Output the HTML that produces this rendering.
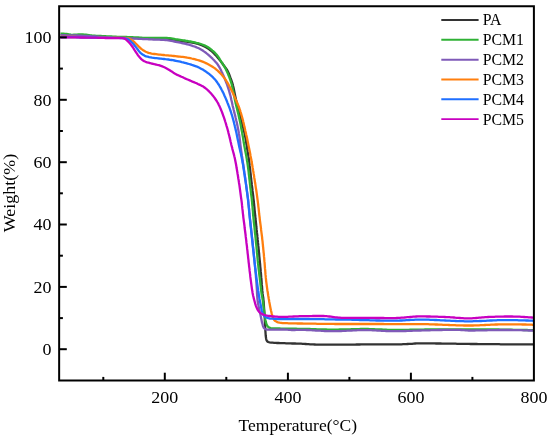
<!DOCTYPE html>
<html><head><meta charset="utf-8"><title>TG curves</title>
<style>
html,body{margin:0;padding:0;background:#fff;}
body{width:550px;height:439px;overflow:hidden;}
svg{display:block;}
text{font-family:"Liberation Serif",serif;fill:#000;}
.tk{font-size:17.2px;}
.ax{font-size:17.5px;}
.lg{font-size:15.8px;}
.ay{font-size:16.8px;}
</style></head><body>
<svg width="550" height="439" viewBox="0 0 550 439">
<rect x="0" y="0" width="550" height="439" fill="#fff"/>

<clipPath id="cp"><rect x="59.15" y="6.2" width="474.75" height="374.2"/></clipPath>
<g clip-path="url(#cp)" fill="none" stroke-width="2.3" stroke-linejoin="round" stroke-linecap="butt">
<path d="M60.5,36.8 L62.1,36.8 L63.5,36.8 L65.0,36.8 L66.5,36.8 L68.0,36.8 L69.5,36.8 L71.0,36.9 L72.5,36.9 L74.0,36.9 L75.5,36.9 L77.0,36.9 L78.5,36.9 L80.0,36.9 L81.5,37.0 L83.0,37.0 L84.5,37.0 L86.0,37.0 L87.5,37.0 L89.0,37.0 L90.5,37.1 L92.0,37.1 L93.5,37.1 L95.0,37.1 L96.5,37.1 L98.0,37.2 L99.5,37.2 L101.0,37.2 L102.5,37.2 L104.0,37.3 L105.5,37.3 L107.0,37.3 L108.5,37.4 L110.0,37.4 L111.5,37.4 L113.0,37.5 L114.5,37.5 L116.0,37.5 L117.5,37.6 L119.0,37.6 L120.5,37.7 L122.0,37.7 L123.5,37.7 L125.0,37.8 L126.5,37.8 L128.0,37.9 L129.5,37.9 L131.0,38.0 L132.5,38.0 L134.0,38.1 L135.5,38.1 L137.0,38.2 L138.5,38.2 L140.0,38.3 L141.5,38.3 L143.0,38.4 L144.5,38.4 L146.0,38.5 L147.5,38.5 L149.0,38.6 L150.5,38.6 L152.0,38.7 L153.5,38.7 L155.0,38.7 L156.5,38.7 L158.0,38.8 L159.5,38.8 L161.0,38.9 L162.5,38.9 L164.0,39.0 L165.5,39.0 L167.0,39.1 L168.5,39.3 L169.9,39.5 L171.4,39.7 L172.9,39.9 L174.4,40.1 L175.9,40.3 L177.4,40.5 L178.9,40.7 L180.4,40.9 L181.8,41.1 L183.3,41.3 L184.8,41.5 L186.3,41.7 L187.8,41.9 L189.3,42.2 L190.8,42.4 L192.3,42.6 L193.7,42.9 L195.2,43.2 L196.7,43.5 L198.1,43.9 L199.5,44.4 L200.9,44.9 L202.3,45.5 L203.7,46.1 L205.0,46.8 L206.4,47.6 L207.6,48.3 L208.9,49.1 L210.1,50.0 L211.2,50.9 L212.4,51.9 L213.5,53.0 L214.5,54.1 L215.6,55.1 L216.6,56.3 L217.6,57.4 L218.5,58.5 L219.5,59.7 L220.4,60.9 L221.3,62.1 L222.2,63.3 L223.1,64.5 L224.0,65.7 L224.9,66.9 L225.8,68.1 L226.7,69.4 L227.4,70.6 L228.1,72.0 L228.7,73.3 L229.3,74.7 L229.8,76.1 L230.3,77.5 L230.9,78.9 L231.4,80.4 L231.9,81.8 L232.3,83.2 L232.8,84.6 L233.1,86.1 L233.5,87.5 L233.8,89.0 L234.1,90.5 L234.4,91.9 L234.7,93.4 L235.0,94.9 L235.3,96.4 L235.6,97.8 L235.9,99.3 L236.3,100.8 L236.6,102.2 L237.0,103.7 L237.4,105.1 L237.7,106.6 L238.1,108.0 L238.5,109.5 L238.9,110.9 L239.3,112.4 L239.7,113.9 L240.1,115.3 L240.5,116.8 L240.9,118.2 L241.3,119.7 L241.6,121.1 L242.0,122.6 L242.3,124.1 L242.7,125.5 L243.0,127.0 L243.4,128.4 L243.7,129.9 L244.1,131.4 L244.4,132.8 L244.7,134.3 L245.0,135.7 L245.3,137.2 L245.6,138.7 L245.9,140.2 L246.1,141.6 L246.3,143.1 L246.5,144.6 L246.8,146.1 L247.0,147.6 L247.2,149.0 L247.5,150.5 L247.7,152.0 L248.0,153.5 L248.2,155.0 L248.4,156.4 L248.7,157.9 L248.9,159.4 L249.1,160.9 L249.3,162.4 L249.5,163.9 L249.6,165.4 L249.8,166.8 L250.0,168.3 L250.2,169.8 L250.3,171.3 L250.5,172.8 L250.7,174.3 L250.8,175.8 L251.0,177.3 L251.2,178.8 L251.3,180.3 L251.5,181.8 L251.7,183.2 L251.8,184.7 L252.0,186.2 L252.2,187.7 L252.4,189.2 L252.5,190.7 L252.7,192.2 L252.9,193.7 L253.1,195.2 L253.3,196.6 L253.4,198.1 L253.6,199.6 L253.8,201.1 L253.9,202.6 L254.1,204.1 L254.2,205.6 L254.4,207.1 L254.5,208.6 L254.6,210.1 L254.8,211.5 L254.9,213.0 L255.1,214.5 L255.2,216.0 L255.4,217.5 L255.5,219.0 L255.7,220.5 L255.9,222.0 L256.0,223.5 L256.2,225.0 L256.3,226.5 L256.5,228.0 L256.6,229.4 L256.8,230.9 L256.9,232.4 L257.1,233.9 L257.3,235.4 L257.4,236.9 L257.6,238.4 L257.7,239.9 L257.9,241.4 L258.0,242.9 L258.2,244.4 L258.3,245.9 L258.5,247.4 L258.6,248.8 L258.8,250.3 L258.9,251.8 L259.1,253.3 L259.2,254.8 L259.3,256.3 L259.5,257.8 L259.6,259.3 L259.8,260.8 L259.9,262.3 L260.1,263.8 L260.2,265.3 L260.3,266.8 L260.5,268.3 L260.6,269.7 L260.7,271.2 L260.9,272.7 L261.0,274.2 L261.1,275.7 L261.2,277.2 L261.4,278.7 L261.5,280.2 L261.6,281.7 L261.7,283.2 L261.8,284.7 L262.0,286.2 L262.1,287.7 L262.2,289.2 L262.3,290.7 L262.5,292.2 L262.6,293.7 L262.8,295.1 L263.0,296.6 L263.3,298.1 L263.4,299.6 L263.6,301.1 L263.7,302.6 L263.8,304.1 L263.9,305.6 L264.0,307.1 L264.1,308.6 L264.2,310.1 L264.3,311.6 L264.4,313.1 L264.5,314.6 L264.6,316.1 L264.7,317.6 L264.8,319.1 L264.8,320.6 L264.9,322.1 L265.0,323.6 L265.1,325.1 L265.2,326.5 L265.2,328.0 L265.3,329.5 L265.4,331.0 L265.5,332.5 L265.6,334.0 L265.7,335.5 L265.9,337.0 L266.1,338.5 L266.4,340.0 L267.1,341.2 L268.2,342.0 L269.6,342.4 L271.1,342.6 L272.6,342.7 L274.1,342.8 L275.6,342.9 L277.1,343.0 L278.6,343.0 L280.1,343.1 L281.6,343.1 L283.1,343.2 L284.6,343.2 L286.1,343.3 L287.6,343.3 L289.1,343.4 L290.6,343.4 L292.1,343.5 L293.6,343.5 L295.1,343.5 L296.6,343.6 L298.1,343.6 L299.6,343.7 L301.1,343.7 L302.6,343.8 L304.1,343.9 L305.6,344.0 L307.1,344.1 L308.6,344.2 L310.1,344.3 L311.6,344.3 L313.1,344.4 L314.6,344.5 L316.1,344.6 L317.6,344.6 L319.1,344.7 L320.6,344.7 L322.1,344.7 L323.6,344.7 L325.1,344.7 L326.6,344.7 L328.1,344.7 L329.6,344.7 L331.1,344.7 L332.6,344.7 L334.1,344.7 L335.6,344.7 L337.1,344.7 L338.6,344.7 L340.1,344.7 L341.6,344.7 L343.1,344.7 L344.6,344.7 L346.1,344.7 L347.6,344.7 L349.1,344.7 L350.6,344.6 L352.1,344.6 L353.6,344.6 L355.1,344.6 L356.6,344.5 L358.1,344.5 L359.6,344.5 L361.1,344.4 L362.6,344.4 L364.1,344.4 L365.6,344.4 L367.1,344.4 L368.6,344.4 L370.1,344.4 L371.6,344.4 L373.1,344.4 L374.6,344.4 L376.1,344.4 L377.6,344.4 L379.1,344.4 L380.6,344.4 L382.1,344.4 L383.6,344.4 L385.1,344.4 L386.6,344.3 L388.1,344.3 L389.6,344.3 L391.1,344.3 L392.6,344.3 L394.1,344.3 L395.6,344.3 L397.1,344.3 L398.6,344.3 L400.1,344.3 L401.6,344.3 L403.1,344.2 L404.6,344.2 L406.1,344.1 L407.6,344.0 L409.1,343.9 L410.6,343.9 L412.1,343.8 L413.6,343.6 L415.1,343.5 L416.6,343.4 L418.1,343.3 L419.6,343.3 L421.1,343.3 L422.6,343.3 L424.1,343.3 L425.6,343.3 L427.1,343.3 L428.6,343.4 L430.1,343.4 L431.6,343.4 L433.1,343.4 L434.6,343.4 L436.1,343.5 L437.6,343.5 L439.1,343.5 L440.6,343.5 L442.1,343.6 L443.6,343.6 L445.1,343.6 L446.6,343.6 L448.1,343.6 L449.6,343.7 L451.1,343.7 L452.6,343.7 L454.1,343.7 L455.6,343.7 L457.1,343.8 L458.6,343.8 L460.1,343.8 L461.6,343.8 L463.1,343.8 L464.6,343.9 L466.1,343.9 L467.6,343.9 L469.1,343.9 L470.6,344.0 L472.1,344.0 L473.6,344.0 L475.1,344.0 L476.6,344.0 L478.1,344.1 L479.6,344.1 L481.1,344.1 L482.6,344.1 L484.1,344.1 L485.6,344.1 L487.1,344.2 L488.6,344.2 L490.1,344.2 L491.6,344.2 L493.1,344.2 L494.6,344.2 L496.1,344.2 L497.6,344.2 L499.1,344.2 L500.6,344.3 L502.1,344.3 L503.6,344.3 L505.1,344.3 L506.6,344.3 L508.1,344.3 L509.6,344.3 L511.1,344.3 L512.6,344.3 L514.1,344.3 L515.6,344.3 L517.1,344.3 L518.6,344.4 L520.1,344.4 L521.6,344.4 L523.1,344.4 L524.6,344.4 L526.1,344.4 L527.6,344.4 L529.1,344.4 L530.6,344.4 L532.0,344.4 L533.3,344.4 L534.0,344.4" stroke="#333333"/>
<path d="M60.5,33.6 L62.1,33.6 L63.5,33.7 L65.0,33.8 L66.5,34.0 L68.0,34.2 L69.4,34.5 L70.9,34.7 L72.4,34.8 L73.9,34.7 L75.4,34.7 L76.9,34.6 L78.4,34.5 L79.9,34.4 L81.4,34.4 L82.9,34.5 L84.4,34.6 L85.9,34.7 L87.4,34.9 L88.9,35.1 L90.4,35.3 L91.8,35.5 L93.3,35.6 L94.8,35.7 L96.3,35.8 L97.8,35.9 L99.3,36.0 L100.8,36.0 L102.3,36.1 L103.8,36.2 L105.3,36.2 L106.8,36.3 L108.3,36.4 L109.8,36.4 L111.3,36.5 L112.8,36.6 L114.3,36.7 L115.8,36.7 L117.3,36.8 L118.8,36.8 L120.3,36.9 L121.8,36.9 L123.3,37.0 L124.8,37.0 L126.3,37.0 L127.8,37.1 L129.3,37.1 L130.8,37.2 L132.3,37.2 L133.8,37.3 L135.3,37.4 L136.8,37.5 L138.3,37.5 L139.8,37.6 L141.3,37.7 L142.8,37.8 L144.3,37.8 L145.8,37.9 L147.3,37.9 L148.8,37.9 L150.3,37.9 L151.8,37.9 L153.3,37.9 L154.8,37.9 L156.3,37.9 L157.8,37.9 L159.3,37.9 L160.8,37.9 L162.3,37.9 L163.8,37.9 L165.3,37.9 L166.8,38.0 L168.3,38.1 L169.8,38.2 L171.3,38.4 L172.7,38.7 L174.2,39.0 L175.7,39.3 L177.2,39.5 L178.7,39.7 L180.1,39.9 L181.6,40.1 L183.1,40.3 L184.6,40.5 L186.1,40.8 L187.6,41.0 L189.0,41.3 L190.5,41.5 L192.0,41.8 L193.5,42.1 L194.9,42.4 L196.4,42.8 L197.9,43.1 L199.3,43.5 L200.7,44.0 L202.2,44.5 L203.6,45.0 L204.9,45.6 L206.3,46.3 L207.6,47.0 L208.8,47.8 L210.1,48.7 L211.3,49.6 L212.4,50.6 L213.6,51.5 L214.7,52.6 L215.7,53.7 L216.7,54.8 L217.6,55.9 L218.5,57.2 L219.3,58.4 L220.0,59.7 L220.8,61.0 L221.7,62.3 L222.5,63.5 L223.3,64.8 L224.1,66.1 L224.8,67.4 L225.6,68.7 L226.2,70.0 L226.9,71.4 L227.5,72.7 L228.1,74.1 L228.6,75.5 L229.2,76.9 L229.7,78.3 L230.2,79.7 L230.7,81.1 L231.2,82.6 L231.6,84.0 L232.0,85.5 L232.3,86.9 L232.6,88.4 L232.9,89.9 L233.2,91.3 L233.5,92.8 L233.8,94.3 L234.1,95.7 L234.4,97.2 L234.7,98.7 L235.0,100.2 L235.3,101.6 L235.6,103.1 L236.0,104.5 L236.3,106.0 L236.7,107.5 L237.1,108.9 L237.4,110.4 L237.8,111.9 L238.1,113.3 L238.5,114.8 L238.8,116.3 L239.1,117.7 L239.5,119.2 L239.8,120.7 L240.1,122.1 L240.4,123.6 L240.7,125.1 L241.0,126.5 L241.2,128.0 L241.5,129.5 L241.8,131.0 L242.1,132.4 L242.3,133.9 L242.6,135.4 L242.9,136.9 L243.1,138.3 L243.3,139.8 L243.6,141.3 L243.8,142.8 L244.1,144.3 L244.3,145.7 L244.6,147.2 L244.9,148.7 L245.1,150.2 L245.4,151.6 L245.7,153.1 L246.0,154.6 L246.3,156.1 L246.5,157.5 L246.8,159.0 L247.0,160.5 L247.3,162.0 L247.5,163.5 L247.7,164.9 L247.9,166.4 L248.1,167.9 L248.3,169.4 L248.5,170.9 L248.7,172.4 L248.8,173.9 L249.0,175.4 L249.2,176.8 L249.3,178.3 L249.5,179.8 L249.7,181.3 L249.8,182.8 L250.0,184.3 L250.2,185.8 L250.3,187.3 L250.5,188.8 L250.7,190.3 L250.9,191.8 L251.0,193.2 L251.2,194.7 L251.4,196.2 L251.6,197.7 L251.8,199.2 L251.9,200.7 L252.1,202.2 L252.2,203.7 L252.3,205.2 L252.5,206.7 L252.6,208.1 L252.7,209.6 L252.9,211.1 L253.0,212.6 L253.1,214.1 L253.2,215.6 L253.4,217.1 L253.5,218.6 L253.7,220.1 L253.8,221.6 L254.0,223.1 L254.2,224.6 L254.3,226.1 L254.5,227.5 L254.6,229.0 L254.8,230.5 L254.9,232.0 L255.1,233.5 L255.3,235.0 L255.4,236.5 L255.6,238.0 L255.7,239.5 L255.9,241.0 L256.0,242.5 L256.2,244.0 L256.3,245.4 L256.5,246.9 L256.6,248.4 L256.8,249.9 L256.9,251.4 L257.0,252.9 L257.2,254.4 L257.3,255.9 L257.4,257.4 L257.6,258.9 L257.7,260.4 L257.9,261.9 L258.0,263.4 L258.2,264.9 L258.4,266.3 L258.5,267.8 L258.7,269.3 L258.9,270.8 L259.1,272.3 L259.2,273.8 L259.4,275.3 L259.6,276.8 L259.8,278.3 L259.9,279.8 L260.1,281.2 L260.3,282.7 L260.4,284.2 L260.6,285.7 L260.8,287.2 L260.9,288.7 L261.1,290.2 L261.3,291.7 L261.5,293.2 L261.7,294.6 L262.0,296.1 L262.3,297.6 L262.5,299.1 L262.8,300.5 L263.0,302.0 L263.2,303.5 L263.3,305.0 L263.5,306.5 L263.7,308.0 L263.9,309.5 L264.1,311.0 L264.3,312.5 L264.5,313.9 L264.7,315.4 L265.0,316.9 L265.2,318.4 L265.4,319.9 L265.7,321.4 L266.1,322.8 L266.5,324.3 L267.2,325.6 L268.1,326.8 L269.2,327.7 L270.6,328.2 L272.0,328.4 L273.5,328.4 L274.9,328.5 L276.5,328.5 L278.0,328.5 L279.5,328.5 L281.0,328.6 L282.6,328.6 L284.1,328.6 L285.6,328.6 L287.1,328.6 L288.6,328.7 L290.1,328.7 L291.6,328.7 L293.1,328.7 L294.6,328.7 L296.1,328.7 L297.6,328.8 L299.1,328.8 L300.6,328.8 L302.1,328.8 L303.6,328.9 L305.1,328.9 L306.6,329.0 L308.1,329.0 L309.6,329.0 L311.1,329.1 L312.6,329.1 L314.1,329.2 L315.6,329.2 L317.1,329.3 L318.6,329.3 L320.1,329.4 L321.6,329.4 L323.1,329.5 L324.6,329.5 L326.1,329.5 L327.6,329.6 L329.1,329.6 L330.6,329.6 L332.1,329.6 L333.6,329.6 L335.1,329.6 L336.6,329.6 L338.1,329.6 L339.6,329.5 L341.1,329.5 L342.6,329.5 L344.1,329.4 L345.6,329.4 L347.1,329.3 L348.6,329.3 L350.1,329.3 L351.6,329.2 L353.1,329.2 L354.6,329.1 L356.1,329.1 L357.6,329.1 L359.1,329.1 L360.6,329.0 L362.1,329.0 L363.6,329.0 L365.1,329.0 L366.6,329.0 L368.1,329.0 L369.6,329.1 L371.1,329.1 L372.6,329.2 L374.1,329.2 L375.6,329.3 L377.1,329.3 L378.6,329.4 L380.1,329.5 L381.6,329.5 L383.1,329.6 L384.6,329.7 L386.1,329.7 L387.6,329.8 L389.1,329.8 L390.6,329.9 L392.1,329.9 L393.6,329.9 L395.1,329.9 L396.6,329.9 L398.1,329.9 L399.6,329.9 L401.1,329.9 L402.6,329.8 L404.1,329.8 L405.6,329.8 L407.1,329.8 L408.6,329.8 L410.1,329.7 L411.6,329.7 L413.1,329.7 L414.6,329.7 L416.1,329.6 L417.6,329.6 L419.1,329.6 L420.6,329.6 L422.1,329.6 L423.6,329.6 L425.1,329.5 L426.6,329.5 L428.1,329.5 L429.6,329.5 L431.1,329.5 L432.6,329.5 L434.1,329.5 L435.6,329.4 L437.1,329.4 L438.6,329.4 L440.1,329.4 L441.6,329.4 L443.1,329.4 L444.6,329.4 L446.1,329.3 L447.6,329.3 L449.1,329.3 L450.6,329.3 L452.1,329.3 L453.6,329.3 L455.1,329.3 L456.6,329.3 L458.1,329.3 L459.6,329.3 L461.1,329.3 L462.6,329.3 L464.1,329.3 L465.6,329.3 L467.1,329.3 L468.6,329.3 L470.1,329.3 L471.6,329.3 L473.1,329.3 L474.6,329.3 L476.1,329.3 L477.6,329.4 L479.1,329.4 L480.6,329.4 L482.0,329.4 L483.5,329.4 L485.0,329.4 L486.5,329.4 L488.0,329.4 L489.5,329.4 L491.0,329.5 L492.5,329.5 L494.0,329.5 L495.5,329.5 L497.0,329.5 L498.5,329.5 L500.0,329.6 L501.5,329.6 L503.0,329.6 L504.5,329.6 L506.0,329.6 L507.5,329.7 L509.0,329.7 L510.5,329.7 L512.0,329.7 L513.5,329.8 L515.0,329.8 L516.5,329.8 L518.0,329.8 L519.5,329.9 L521.0,329.9 L522.5,329.9 L524.0,330.0 L525.5,330.0 L527.0,330.0 L528.5,330.1 L530.0,330.1 L531.5,330.1 L532.9,330.2 L534.0,330.2" stroke="#2fb135"/>
<path d="M60.5,35.2 L62.1,35.2 L63.5,35.2 L65.0,35.2 L66.5,35.3 L68.0,35.3 L69.5,35.3 L71.0,35.4 L72.5,35.4 L74.0,35.4 L75.5,35.5 L77.0,35.5 L78.5,35.6 L80.0,35.6 L81.5,35.7 L83.0,35.8 L84.5,35.8 L86.0,35.9 L87.5,36.0 L89.0,36.1 L90.5,36.2 L92.0,36.4 L93.5,36.5 L95.0,36.5 L96.5,36.6 L98.0,36.7 L99.5,36.8 L101.0,36.9 L102.5,37.0 L104.0,37.1 L105.4,37.2 L106.9,37.3 L108.4,37.4 L109.9,37.5 L111.4,37.5 L112.9,37.6 L114.4,37.7 L115.9,37.7 L117.4,37.8 L118.9,37.8 L120.4,37.9 L121.9,37.9 L123.4,38.0 L124.9,38.0 L126.4,38.1 L127.9,38.1 L129.4,38.2 L130.9,38.3 L132.4,38.4 L133.9,38.5 L135.4,38.6 L136.9,38.7 L138.4,38.8 L139.9,38.9 L141.4,38.9 L142.9,39.0 L144.4,39.1 L145.9,39.2 L147.4,39.2 L148.9,39.3 L150.4,39.4 L151.9,39.4 L153.4,39.5 L154.9,39.6 L156.4,39.6 L157.9,39.7 L159.4,39.7 L160.9,39.8 L162.4,39.9 L163.9,39.9 L165.4,40.0 L166.9,40.2 L168.3,40.4 L169.8,40.6 L171.3,40.9 L172.8,41.2 L174.3,41.5 L175.7,41.8 L177.2,42.1 L178.7,42.3 L180.2,42.6 L181.6,43.0 L183.1,43.3 L184.5,43.6 L186.0,44.0 L187.5,44.3 L188.9,44.7 L190.4,45.2 L191.8,45.6 L193.2,46.1 L194.6,46.5 L196.0,47.1 L197.4,47.7 L198.8,48.3 L200.1,49.0 L201.4,49.7 L202.7,50.5 L203.9,51.4 L205.1,52.2 L206.3,53.2 L207.5,54.1 L208.7,55.1 L209.8,56.1 L210.9,57.1 L212.0,58.1 L213.0,59.2 L214.1,60.3 L215.1,61.4 L216.1,62.5 L217.0,63.6 L217.9,64.8 L218.7,66.1 L219.5,67.4 L220.2,68.7 L220.9,70.1 L221.5,71.4 L222.2,72.8 L222.8,74.2 L223.4,75.5 L224.0,76.9 L224.6,78.3 L225.1,79.7 L225.7,81.1 L226.2,82.5 L226.8,83.9 L227.3,85.3 L227.7,86.7 L228.2,88.1 L228.7,89.6 L229.1,91.0 L229.5,92.4 L229.9,93.9 L230.3,95.3 L230.7,96.8 L231.0,98.2 L231.3,99.7 L231.7,101.2 L232.0,102.6 L232.3,104.1 L232.6,105.6 L233.0,107.0 L233.4,108.5 L233.7,110.0 L234.1,111.4 L234.4,112.9 L234.8,114.3 L235.2,115.8 L235.5,117.3 L235.9,118.7 L236.2,120.2 L236.6,121.7 L236.9,123.1 L237.2,124.6 L237.5,126.1 L237.8,127.5 L238.1,129.0 L238.4,130.5 L238.7,131.9 L238.9,133.4 L239.2,134.9 L239.4,136.4 L239.6,137.9 L239.8,139.4 L240.0,140.8 L240.2,142.3 L240.3,143.8 L240.5,145.3 L240.7,146.8 L240.9,148.3 L241.1,149.8 L241.3,151.3 L241.5,152.7 L241.7,154.2 L241.9,155.7 L242.2,157.2 L242.4,158.7 L242.6,160.2 L242.8,161.6 L243.0,163.1 L243.3,164.6 L243.5,166.1 L243.7,167.6 L243.9,169.1 L244.1,170.6 L244.3,172.0 L244.5,173.5 L244.8,175.0 L245.0,176.5 L245.2,178.0 L245.4,179.5 L245.6,180.9 L245.8,182.4 L246.0,183.9 L246.2,185.4 L246.4,186.9 L246.6,188.4 L246.8,189.9 L247.0,191.4 L247.2,192.8 L247.4,194.3 L247.6,195.8 L247.8,197.3 L248.0,198.8 L248.2,200.3 L248.3,201.8 L248.5,203.3 L248.6,204.7 L248.8,206.2 L248.9,207.7 L249.1,209.2 L249.2,210.7 L249.3,212.2 L249.5,213.7 L249.6,215.2 L249.8,216.7 L249.9,218.2 L250.1,219.7 L250.3,221.1 L250.4,222.6 L250.6,224.1 L250.7,225.6 L250.9,227.1 L251.1,228.6 L251.2,230.1 L251.4,231.6 L251.6,233.1 L251.7,234.6 L251.9,236.1 L252.0,237.5 L252.2,239.0 L252.4,240.5 L252.5,242.0 L252.7,243.5 L252.8,245.0 L253.0,246.5 L253.2,248.0 L253.3,249.5 L253.5,251.0 L253.6,252.5 L253.8,254.0 L253.9,255.4 L254.1,256.9 L254.3,258.4 L254.4,259.9 L254.6,261.4 L254.7,262.9 L254.8,264.4 L255.0,265.9 L255.1,267.4 L255.3,268.9 L255.4,270.4 L255.5,271.9 L255.7,273.4 L255.8,274.9 L255.9,276.4 L256.0,277.8 L256.2,279.3 L256.3,280.8 L256.4,282.3 L256.5,283.8 L256.6,285.3 L256.7,286.8 L256.8,288.3 L256.9,289.8 L257.0,291.3 L257.0,292.8 L257.1,294.3 L257.2,295.8 L257.3,297.3 L257.4,298.8 L257.6,300.3 L257.7,301.8 L258.0,303.3 L258.3,304.7 L258.6,306.2 L258.9,307.7 L259.2,309.1 L259.5,310.6 L259.8,312.1 L260.2,313.5 L260.5,315.0 L260.8,316.5 L261.1,317.9 L261.4,319.4 L261.7,320.9 L262.0,322.4 L262.4,323.8 L262.8,325.3 L263.3,326.8 L263.9,328.0 L264.9,329.0 L266.3,329.5 L267.7,329.7 L269.2,329.7 L270.7,329.7 L272.3,329.7 L273.8,329.7 L275.3,329.7 L276.8,329.6 L278.3,329.6 L279.8,329.6 L281.3,329.5 L282.8,329.5 L284.3,329.5 L285.8,329.6 L287.3,329.7 L288.8,329.8 L290.3,329.9 L291.7,330.0 L293.2,330.0 L294.7,330.0 L296.2,329.9 L297.7,329.8 L299.2,329.8 L300.7,329.8 L302.2,329.8 L303.7,329.9 L305.2,329.9 L306.7,330.0 L308.2,330.0 L309.7,330.1 L311.2,330.2 L312.7,330.3 L314.2,330.4 L315.7,330.5 L317.2,330.6 L318.7,330.7 L320.2,330.7 L321.7,330.8 L323.2,330.9 L324.7,331.0 L326.2,331.1 L327.7,331.1 L329.2,331.2 L330.7,331.2 L332.2,331.2 L333.7,331.2 L335.2,331.2 L336.7,331.1 L338.2,331.1 L339.7,331.1 L341.2,331.0 L342.7,330.9 L344.2,330.9 L345.7,330.8 L347.2,330.7 L348.7,330.7 L350.2,330.6 L351.7,330.5 L353.2,330.4 L354.7,330.4 L356.2,330.3 L357.7,330.2 L359.2,330.2 L360.7,330.2 L362.2,330.1 L363.7,330.1 L365.2,330.1 L366.7,330.1 L368.2,330.1 L369.7,330.2 L371.2,330.2 L372.7,330.3 L374.2,330.4 L375.7,330.4 L377.2,330.5 L378.7,330.6 L380.2,330.7 L381.7,330.8 L383.2,330.9 L384.7,330.9 L386.2,331.0 L387.7,331.1 L389.2,331.1 L390.7,331.2 L392.2,331.2 L393.7,331.2 L395.2,331.2 L396.7,331.2 L398.2,331.2 L399.7,331.1 L401.2,331.1 L402.7,331.1 L404.2,331.0 L405.7,331.0 L407.2,330.9 L408.7,330.9 L410.2,330.8 L411.7,330.8 L413.2,330.7 L414.7,330.7 L416.2,330.6 L417.7,330.6 L419.2,330.5 L420.7,330.5 L422.2,330.4 L423.7,330.4 L425.2,330.4 L426.7,330.3 L428.2,330.3 L429.7,330.3 L431.2,330.2 L432.7,330.2 L434.2,330.1 L435.7,330.1 L437.2,330.1 L438.7,330.0 L440.2,330.0 L441.7,330.0 L443.2,329.9 L444.7,329.9 L446.2,329.9 L447.7,329.9 L449.2,329.9 L450.7,329.8 L452.2,329.8 L453.7,329.8 L455.2,329.8 L456.7,329.8 L458.2,329.8 L459.7,329.9 L461.2,330.0 L462.6,330.1 L464.1,330.2 L465.6,330.4 L467.1,330.4 L468.6,330.5 L470.1,330.5 L471.6,330.5 L473.1,330.5 L474.6,330.5 L476.1,330.4 L477.6,330.4 L479.1,330.4 L480.6,330.4 L482.1,330.3 L483.6,330.3 L485.1,330.3 L486.6,330.3 L488.1,330.2 L489.6,330.2 L491.1,330.2 L492.6,330.1 L494.1,330.1 L495.6,330.1 L497.1,330.1 L498.6,330.0 L500.1,330.0 L501.6,330.0 L503.1,330.0 L504.6,330.0 L506.1,330.0 L507.6,330.0 L509.1,330.0 L510.6,330.0 L512.1,330.1 L513.6,330.1 L515.1,330.1 L516.6,330.1 L518.1,330.2 L519.6,330.2 L521.1,330.2 L522.6,330.3 L524.1,330.3 L525.6,330.4 L527.1,330.4 L528.6,330.5 L530.1,330.5 L531.6,330.6 L533.0,330.7 L534.0,330.7" stroke="#7f5ab8"/>
<path d="M60.5,36.9 L62.1,36.9 L63.5,36.9 L65.0,36.9 L66.5,36.9 L68.0,37.0 L69.5,37.0 L71.0,37.0 L72.5,37.0 L74.0,37.0 L75.5,37.0 L77.0,37.1 L78.5,37.1 L80.0,37.1 L81.5,37.1 L83.0,37.1 L84.5,37.2 L86.0,37.2 L87.5,37.2 L89.0,37.2 L90.5,37.2 L92.0,37.3 L93.5,37.3 L95.0,37.3 L96.5,37.3 L98.0,37.4 L99.5,37.4 L101.0,37.4 L102.5,37.4 L104.0,37.5 L105.5,37.5 L107.0,37.5 L108.5,37.5 L110.0,37.5 L111.5,37.6 L113.0,37.6 L114.5,37.6 L116.0,37.6 L117.5,37.7 L119.0,37.7 L120.5,37.8 L122.0,37.8 L123.5,37.9 L125.0,38.0 L126.5,38.1 L128.0,38.4 L129.4,38.8 L130.7,39.5 L132.0,40.3 L133.2,41.2 L134.3,42.2 L135.4,43.2 L136.5,44.3 L137.5,45.3 L138.6,46.4 L139.7,47.4 L140.8,48.5 L142.0,49.4 L143.2,50.2 L144.5,51.0 L145.8,51.7 L147.2,52.3 L148.6,52.8 L150.0,53.2 L151.5,53.6 L153.0,53.8 L154.5,54.0 L156.0,54.2 L157.4,54.4 L158.9,54.6 L160.4,54.7 L161.9,54.9 L163.4,55.0 L164.9,55.2 L166.4,55.3 L167.9,55.4 L169.4,55.6 L170.9,55.7 L172.4,55.9 L173.9,56.0 L175.4,56.1 L176.9,56.3 L178.3,56.5 L179.8,56.6 L181.3,56.8 L182.8,56.9 L184.3,57.1 L185.8,57.3 L187.3,57.6 L188.7,57.8 L190.2,58.1 L191.7,58.5 L193.1,58.8 L194.6,59.2 L196.0,59.6 L197.5,60.0 L198.9,60.4 L200.4,60.9 L201.8,61.4 L203.2,61.9 L204.6,62.5 L205.9,63.1 L207.3,63.8 L208.6,64.5 L209.9,65.2 L211.2,65.9 L212.5,66.7 L213.8,67.6 L215.0,68.4 L216.1,69.4 L217.3,70.3 L218.4,71.4 L219.4,72.4 L220.5,73.5 L221.5,74.6 L222.5,75.7 L223.5,76.9 L224.4,78.1 L225.3,79.3 L226.1,80.5 L226.9,81.8 L227.7,83.1 L228.4,84.4 L229.1,85.7 L229.8,87.0 L230.5,88.4 L231.2,89.7 L231.9,91.0 L232.6,92.4 L233.2,93.7 L233.8,95.1 L234.4,96.5 L235.1,97.8 L235.6,99.2 L236.2,100.6 L236.8,102.0 L237.4,103.3 L238.0,104.7 L238.6,106.1 L239.1,107.5 L239.6,109.0 L240.1,110.4 L240.5,111.8 L241.0,113.3 L241.4,114.7 L241.8,116.2 L242.2,117.6 L242.6,119.1 L243.0,120.5 L243.3,122.0 L243.7,123.4 L244.0,124.9 L244.3,126.4 L244.7,127.8 L245.0,129.3 L245.3,130.7 L245.7,132.2 L246.0,133.7 L246.3,135.1 L246.7,136.6 L247.0,138.1 L247.3,139.5 L247.6,141.0 L247.9,142.5 L248.2,143.9 L248.5,145.4 L248.8,146.9 L249.1,148.3 L249.4,149.8 L249.7,151.3 L250.0,152.8 L250.3,154.2 L250.5,155.7 L250.8,157.2 L251.1,158.7 L251.4,160.1 L251.6,161.6 L251.9,163.1 L252.1,164.6 L252.4,166.0 L252.6,167.5 L252.9,169.0 L253.1,170.5 L253.4,172.0 L253.6,173.4 L253.9,174.9 L254.1,176.4 L254.3,177.9 L254.6,179.4 L254.8,180.8 L255.0,182.3 L255.3,183.8 L255.5,185.3 L255.7,186.8 L255.9,188.3 L256.2,189.7 L256.4,191.2 L256.6,192.7 L256.8,194.2 L257.0,195.7 L257.2,197.2 L257.4,198.7 L257.6,200.1 L257.8,201.6 L258.0,203.1 L258.2,204.6 L258.3,206.1 L258.5,207.6 L258.7,209.1 L258.8,210.5 L259.0,212.0 L259.1,213.5 L259.3,215.0 L259.5,216.5 L259.7,218.0 L259.8,219.5 L260.0,221.0 L260.2,222.5 L260.4,223.9 L260.6,225.4 L260.8,226.9 L261.0,228.4 L261.1,229.9 L261.3,231.4 L261.5,232.9 L261.7,234.4 L261.9,235.8 L262.1,237.3 L262.2,238.8 L262.4,240.3 L262.6,241.8 L262.7,243.3 L262.9,244.8 L263.0,246.3 L263.2,247.8 L263.3,249.3 L263.5,250.8 L263.6,252.3 L263.8,253.7 L263.9,255.2 L264.0,256.7 L264.2,258.2 L264.3,259.7 L264.4,261.2 L264.6,262.7 L264.7,264.2 L264.8,265.7 L264.9,267.2 L265.0,268.7 L265.2,270.2 L265.3,271.7 L265.4,273.2 L265.5,274.7 L265.7,276.2 L265.8,277.7 L266.0,279.2 L266.1,280.6 L266.3,282.1 L266.5,283.6 L266.7,285.1 L266.9,286.6 L267.1,288.1 L267.3,289.6 L267.5,291.0 L267.8,292.5 L268.0,294.0 L268.2,295.5 L268.5,297.0 L268.7,298.5 L269.0,299.9 L269.2,301.4 L269.5,302.9 L269.8,304.4 L270.0,305.8 L270.3,307.3 L270.6,308.8 L270.9,310.2 L271.3,311.7 L271.6,313.2 L272.0,314.6 L272.4,316.1 L272.9,317.5 L273.5,318.9 L274.3,320.1 L275.4,321.1 L276.7,321.8 L278.1,322.3 L279.6,322.7 L281.1,322.9 L282.6,323.1 L284.1,323.1 L285.6,323.2 L287.1,323.2 L288.6,323.3 L290.1,323.3 L291.6,323.4 L293.1,323.4 L294.6,323.4 L296.1,323.4 L297.6,323.5 L299.1,323.5 L300.6,323.5 L302.1,323.5 L303.6,323.6 L305.1,323.6 L306.6,323.6 L308.1,323.6 L309.6,323.6 L311.1,323.7 L312.6,323.7 L314.1,323.7 L315.6,323.7 L317.1,323.8 L318.6,323.8 L320.1,323.8 L321.6,323.8 L323.1,323.8 L324.6,323.8 L326.1,323.9 L327.6,323.9 L329.1,323.9 L330.6,323.9 L332.1,323.9 L333.6,323.9 L335.1,324.0 L336.6,324.0 L338.1,324.0 L339.6,324.0 L341.1,324.0 L342.6,324.0 L344.1,324.0 L345.6,324.0 L347.1,324.0 L348.6,324.0 L350.1,324.0 L351.6,324.0 L353.1,324.0 L354.6,324.0 L356.1,324.0 L357.6,324.0 L359.1,324.0 L360.6,324.0 L362.1,324.0 L363.6,324.0 L365.1,324.0 L366.6,324.0 L368.1,324.0 L369.6,324.0 L371.1,324.0 L372.6,324.0 L374.1,324.0 L375.6,324.0 L377.1,324.0 L378.6,324.0 L380.1,324.0 L381.6,324.0 L383.1,324.0 L384.6,324.1 L386.1,324.1 L387.6,324.1 L389.1,324.1 L390.6,324.1 L392.1,324.1 L393.6,324.1 L395.1,324.1 L396.6,324.1 L398.1,324.1 L399.6,324.1 L401.1,324.1 L402.6,324.1 L404.1,324.1 L405.6,324.1 L407.1,324.1 L408.6,324.1 L410.1,324.1 L411.6,324.1 L413.1,324.1 L414.6,324.1 L416.1,324.1 L417.6,324.1 L419.1,324.1 L420.6,324.1 L422.1,324.1 L423.6,324.1 L425.1,324.2 L426.6,324.2 L428.1,324.2 L429.6,324.3 L431.1,324.3 L432.6,324.3 L434.1,324.4 L435.6,324.5 L437.1,324.5 L438.6,324.6 L440.1,324.6 L441.6,324.7 L443.1,324.8 L444.6,324.8 L446.0,324.9 L447.5,324.9 L449.0,325.0 L450.5,325.1 L452.0,325.1 L453.5,325.2 L455.0,325.2 L456.5,325.3 L458.0,325.3 L459.5,325.4 L461.0,325.4 L462.5,325.4 L464.0,325.5 L465.5,325.5 L467.0,325.5 L468.5,325.5 L470.0,325.5 L471.5,325.5 L473.0,325.5 L474.5,325.4 L476.0,325.4 L477.5,325.3 L479.0,325.3 L480.5,325.2 L482.0,325.1 L483.5,325.1 L485.0,325.0 L486.5,324.9 L488.0,324.8 L489.5,324.8 L491.0,324.7 L492.5,324.6 L494.0,324.6 L495.5,324.5 L497.0,324.5 L498.5,324.4 L500.0,324.4 L501.5,324.3 L503.0,324.3 L504.5,324.3 L506.0,324.3 L507.5,324.3 L509.0,324.3 L510.5,324.3 L512.0,324.3 L513.5,324.3 L515.0,324.3 L516.5,324.4 L518.0,324.4 L519.5,324.4 L521.0,324.4 L522.5,324.5 L524.0,324.5 L525.5,324.5 L527.0,324.6 L528.5,324.6 L530.0,324.7 L531.5,324.7 L532.9,324.8 L534.0,324.8" stroke="#ff7f0e"/>
<path d="M60.5,37.1 L62.1,37.1 L63.5,37.1 L65.0,37.1 L66.5,37.2 L68.0,37.2 L69.5,37.2 L71.0,37.2 L72.5,37.2 L74.0,37.2 L75.5,37.2 L77.0,37.3 L78.5,37.3 L80.0,37.3 L81.5,37.3 L83.0,37.3 L84.5,37.4 L86.0,37.4 L87.5,37.4 L89.0,37.4 L90.5,37.5 L92.0,37.5 L93.5,37.5 L95.0,37.5 L96.5,37.5 L98.0,37.6 L99.5,37.6 L101.0,37.6 L102.5,37.6 L104.0,37.7 L105.5,37.7 L107.0,37.7 L108.5,37.7 L110.0,37.7 L111.5,37.7 L113.0,37.8 L114.5,37.8 L116.0,37.8 L117.5,37.9 L119.0,37.9 L120.5,38.0 L122.0,38.0 L123.5,38.1 L125.0,38.3 L126.4,38.6 L127.8,39.1 L129.0,39.9 L130.2,40.9 L131.3,42.0 L132.4,43.0 L133.4,44.1 L134.4,45.2 L135.4,46.4 L136.3,47.6 L137.2,48.8 L138.1,50.0 L139.0,51.2 L140.0,52.3 L141.1,53.3 L142.3,54.3 L143.5,55.1 L144.8,55.8 L146.2,56.3 L147.7,56.7 L149.1,57.1 L150.6,57.4 L152.1,57.7 L153.6,57.9 L155.1,58.1 L156.6,58.2 L158.1,58.3 L159.5,58.5 L161.0,58.6 L162.5,58.8 L164.0,59.0 L165.5,59.2 L167.0,59.3 L168.5,59.5 L170.0,59.8 L171.4,60.0 L172.9,60.2 L174.4,60.5 L175.9,60.8 L177.3,61.1 L178.8,61.4 L180.3,61.7 L181.7,62.1 L183.2,62.4 L184.7,62.8 L186.1,63.2 L187.5,63.6 L189.0,64.0 L190.4,64.4 L191.9,64.9 L193.3,65.3 L194.7,65.8 L196.1,66.3 L197.5,66.9 L198.9,67.5 L200.2,68.2 L201.5,68.9 L202.8,69.6 L204.1,70.4 L205.4,71.3 L206.6,72.1 L207.8,73.0 L209.1,73.9 L210.2,74.8 L211.4,75.8 L212.5,76.8 L213.5,77.9 L214.5,79.0 L215.5,80.1 L216.4,81.3 L217.3,82.5 L218.1,83.8 L219.0,85.0 L219.7,86.3 L220.5,87.6 L221.2,88.9 L221.9,90.3 L222.6,91.6 L223.3,92.9 L223.9,94.3 L224.5,95.7 L225.1,97.0 L225.7,98.4 L226.3,99.8 L226.9,101.2 L227.4,102.6 L228.0,104.0 L228.5,105.4 L229.1,106.8 L229.6,108.2 L230.1,109.6 L230.6,111.0 L231.1,112.5 L231.5,113.9 L232.0,115.3 L232.4,116.8 L232.8,118.2 L233.2,119.7 L233.6,121.1 L234.0,122.6 L234.3,124.1 L234.7,125.5 L235.0,127.0 L235.4,128.4 L235.7,129.9 L236.1,131.4 L236.4,132.8 L236.7,134.3 L237.0,135.8 L237.3,137.2 L237.6,138.7 L237.9,140.2 L238.2,141.6 L238.5,143.1 L238.8,144.6 L239.1,146.0 L239.4,147.5 L239.8,149.0 L240.1,150.4 L240.4,151.9 L240.8,153.3 L241.1,154.8 L241.4,156.3 L241.7,157.7 L242.0,159.2 L242.3,160.7 L242.5,162.2 L242.8,163.6 L243.1,165.1 L243.3,166.6 L243.5,168.1 L243.8,169.6 L244.0,171.0 L244.2,172.5 L244.5,174.0 L244.7,175.5 L244.9,177.0 L245.1,178.5 L245.3,179.9 L245.6,181.4 L245.8,182.9 L246.0,184.4 L246.2,185.9 L246.4,187.4 L246.6,188.9 L246.8,190.3 L247.0,191.8 L247.2,193.3 L247.4,194.8 L247.6,196.3 L247.8,197.8 L248.0,199.3 L248.1,200.8 L248.3,202.2 L248.4,203.7 L248.6,205.2 L248.7,206.7 L248.9,208.2 L249.0,209.7 L249.1,211.2 L249.3,212.7 L249.4,214.2 L249.6,215.7 L249.7,217.1 L249.9,218.6 L250.0,220.1 L250.2,221.6 L250.4,223.1 L250.5,224.6 L250.7,226.1 L250.9,227.6 L251.0,229.1 L251.2,230.6 L251.3,232.1 L251.5,233.5 L251.7,235.0 L251.8,236.5 L252.0,238.0 L252.1,239.5 L252.3,241.0 L252.5,242.5 L252.6,244.0 L252.8,245.5 L252.9,247.0 L253.1,248.5 L253.2,250.0 L253.4,251.4 L253.6,252.9 L253.7,254.4 L253.9,255.9 L254.0,257.4 L254.2,258.9 L254.4,260.4 L254.5,261.9 L254.7,263.4 L254.9,264.9 L255.0,266.4 L255.2,267.8 L255.4,269.3 L255.6,270.8 L255.8,272.3 L256.0,273.8 L256.2,275.3 L256.3,276.8 L256.5,278.3 L256.7,279.8 L256.9,281.2 L257.1,282.7 L257.3,284.2 L257.5,285.7 L257.7,287.2 L257.9,288.7 L258.1,290.2 L258.4,291.6 L258.6,293.1 L258.8,294.6 L259.0,296.1 L259.3,297.6 L259.5,299.0 L259.8,300.5 L260.1,302.0 L260.4,303.5 L260.7,304.9 L261.0,306.4 L261.3,307.9 L261.6,309.4 L261.9,310.8 L262.3,312.3 L262.8,313.7 L263.5,315.0 L264.4,316.2 L265.6,317.1 L266.9,317.7 L268.3,318.2 L269.8,318.5 L271.3,318.6 L272.8,318.7 L274.3,318.8 L275.8,318.9 L277.3,319.0 L278.8,319.0 L280.3,319.1 L281.8,319.1 L283.3,319.1 L284.8,319.1 L286.3,319.1 L287.8,319.1 L289.3,319.1 L290.8,319.1 L292.3,319.0 L293.8,319.0 L295.3,319.0 L296.8,319.0 L298.3,319.0 L299.8,319.0 L301.3,319.0 L302.8,319.0 L304.3,319.0 L305.8,319.0 L307.3,319.0 L308.8,319.0 L310.3,319.1 L311.8,319.1 L313.3,319.1 L314.8,319.1 L316.3,319.1 L317.8,319.1 L319.3,319.2 L320.8,319.2 L322.3,319.2 L323.8,319.2 L325.3,319.3 L326.8,319.3 L328.3,319.3 L329.8,319.3 L331.3,319.4 L332.8,319.4 L334.3,319.4 L335.8,319.5 L337.3,319.5 L338.8,319.5 L340.3,319.5 L341.8,319.6 L343.3,319.6 L344.8,319.6 L346.3,319.6 L347.8,319.7 L349.3,319.7 L350.8,319.7 L352.3,319.8 L353.8,319.8 L355.3,319.9 L356.8,319.9 L358.3,319.9 L359.8,320.0 L361.3,320.0 L362.8,320.1 L364.3,320.1 L365.8,320.2 L367.3,320.2 L368.8,320.2 L370.3,320.3 L371.8,320.3 L373.3,320.4 L374.8,320.4 L376.3,320.5 L377.8,320.5 L379.3,320.5 L380.8,320.6 L382.3,320.6 L383.8,320.6 L385.3,320.6 L386.8,320.7 L388.3,320.7 L389.8,320.7 L391.3,320.7 L392.8,320.7 L394.3,320.7 L395.8,320.7 L397.3,320.6 L398.8,320.6 L400.3,320.5 L401.8,320.5 L403.3,320.4 L404.8,320.3 L406.3,320.2 L407.8,320.1 L409.3,320.0 L410.8,319.9 L412.3,319.8 L413.8,319.8 L415.3,319.7 L416.8,319.7 L418.3,319.6 L419.8,319.6 L421.3,319.6 L422.8,319.6 L424.3,319.6 L425.8,319.7 L427.3,319.7 L428.8,319.7 L430.3,319.8 L431.8,319.8 L433.3,319.9 L434.8,320.0 L436.3,320.0 L437.8,320.1 L439.2,320.2 L440.7,320.3 L442.2,320.3 L443.7,320.4 L445.2,320.5 L446.7,320.6 L448.2,320.6 L449.7,320.7 L451.2,320.8 L452.7,320.9 L454.2,320.9 L455.7,321.0 L457.2,321.1 L458.7,321.1 L460.2,321.2 L461.7,321.2 L463.2,321.2 L464.7,321.3 L466.2,321.3 L467.7,321.3 L469.2,321.3 L470.7,321.3 L472.2,321.3 L473.7,321.2 L475.2,321.2 L476.7,321.2 L478.2,321.1 L479.7,321.0 L481.2,321.0 L482.7,320.9 L484.2,320.8 L485.7,320.8 L487.2,320.7 L488.7,320.6 L490.2,320.5 L491.7,320.5 L493.2,320.4 L494.7,320.3 L496.2,320.3 L497.7,320.2 L499.2,320.2 L500.7,320.1 L502.2,320.1 L503.7,320.1 L505.2,320.1 L506.7,320.1 L508.2,320.1 L509.7,320.1 L511.2,320.1 L512.7,320.1 L514.2,320.2 L515.7,320.2 L517.2,320.2 L518.7,320.3 L520.2,320.3 L521.7,320.3 L523.2,320.4 L524.7,320.4 L526.2,320.5 L527.7,320.5 L529.2,320.6 L530.7,320.6 L532.2,320.7 L533.4,320.8 L534.0,320.8" stroke="#1f6fff"/>
<path d="M60.5,37.3 L62.1,37.3 L63.5,37.3 L65.0,37.3 L66.5,37.3 L68.0,37.3 L69.5,37.4 L71.0,37.4 L72.5,37.4 L74.0,37.4 L75.5,37.4 L77.0,37.4 L78.5,37.4 L80.0,37.5 L81.5,37.5 L83.0,37.5 L84.5,37.5 L86.0,37.6 L87.5,37.6 L89.0,37.6 L90.5,37.6 L92.0,37.7 L93.5,37.7 L95.0,37.7 L96.5,37.7 L98.0,37.8 L99.5,37.8 L101.0,37.8 L102.5,37.9 L104.0,37.9 L105.5,38.0 L107.0,38.0 L108.5,38.1 L110.0,38.1 L111.5,38.2 L113.0,38.2 L114.5,38.2 L116.0,38.2 L117.5,38.2 L119.1,38.2 L120.6,38.2 L122.1,38.2 L123.5,38.3 L124.8,38.7 L126.1,39.6 L127.2,40.6 L128.3,41.7 L129.3,42.8 L130.3,43.9 L131.2,45.1 L132.1,46.3 L133.0,47.5 L133.8,48.8 L134.6,50.1 L135.4,51.3 L136.2,52.6 L137.1,53.8 L137.9,55.1 L138.8,56.3 L139.8,57.4 L140.8,58.6 L141.9,59.6 L143.1,60.5 L144.3,61.2 L145.7,61.8 L147.1,62.3 L148.6,62.7 L150.0,63.1 L151.5,63.5 L153.0,63.8 L154.4,64.2 L155.9,64.5 L157.3,64.9 L158.8,65.2 L160.2,65.7 L161.6,66.2 L163.0,66.7 L164.4,67.3 L165.8,68.0 L167.1,68.7 L168.4,69.4 L169.7,70.2 L170.9,71.0 L172.2,71.8 L173.4,72.7 L174.7,73.5 L176.0,74.2 L177.3,74.9 L178.7,75.5 L180.1,76.1 L181.4,76.7 L182.8,77.3 L184.2,78.0 L185.5,78.6 L186.9,79.2 L188.3,79.8 L189.7,80.4 L191.1,81.0 L192.4,81.6 L193.8,82.1 L195.2,82.7 L196.6,83.3 L197.9,84.0 L199.3,84.6 L200.7,85.2 L202.0,85.9 L203.3,86.6 L204.5,87.5 L205.7,88.4 L206.9,89.3 L208.0,90.4 L209.1,91.4 L210.1,92.5 L211.1,93.6 L212.1,94.7 L213.1,95.9 L214.0,97.1 L214.9,98.3 L215.7,99.5 L216.6,100.8 L217.3,102.0 L218.1,103.3 L218.7,104.7 L219.4,106.0 L220.0,107.4 L220.6,108.8 L221.2,110.2 L221.8,111.6 L222.3,113.0 L222.8,114.4 L223.3,115.8 L223.8,117.2 L224.3,118.7 L224.8,120.1 L225.2,121.5 L225.7,123.0 L226.1,124.4 L226.5,125.8 L227.0,127.3 L227.4,128.7 L227.8,130.2 L228.2,131.6 L228.5,133.1 L228.9,134.5 L229.3,136.0 L229.6,137.4 L230.0,138.9 L230.3,140.3 L230.6,141.8 L231.0,143.3 L231.3,144.7 L231.7,146.2 L232.1,147.6 L232.4,149.1 L232.8,150.5 L233.2,152.0 L233.6,153.4 L234.0,154.9 L234.3,156.3 L234.7,157.8 L235.0,159.2 L235.3,160.7 L235.6,162.2 L235.9,163.7 L236.1,165.1 L236.4,166.6 L236.6,168.1 L236.9,169.6 L237.1,171.1 L237.4,172.5 L237.6,174.0 L237.9,175.5 L238.1,177.0 L238.3,178.5 L238.6,179.9 L238.8,181.4 L239.0,182.9 L239.3,184.4 L239.5,185.9 L239.7,187.4 L239.9,188.8 L240.1,190.3 L240.3,191.8 L240.5,193.3 L240.7,194.8 L240.9,196.3 L241.1,197.8 L241.3,199.2 L241.5,200.7 L241.7,202.2 L241.9,203.7 L242.0,205.2 L242.2,206.7 L242.3,208.2 L242.5,209.7 L242.7,211.1 L242.8,212.6 L243.0,214.1 L243.2,215.6 L243.3,217.1 L243.5,218.6 L243.7,220.1 L243.9,221.6 L244.1,223.0 L244.3,224.5 L244.5,226.0 L244.6,227.5 L244.8,229.0 L245.0,230.5 L245.2,232.0 L245.4,233.5 L245.6,235.0 L245.7,236.4 L245.9,237.9 L246.1,239.4 L246.3,240.9 L246.4,242.4 L246.6,243.9 L246.8,245.4 L247.0,246.9 L247.1,248.4 L247.3,249.9 L247.5,251.3 L247.6,252.8 L247.8,254.3 L248.0,255.8 L248.1,257.3 L248.3,258.8 L248.5,260.3 L248.6,261.8 L248.8,263.3 L249.0,264.8 L249.1,266.3 L249.3,267.7 L249.5,269.2 L249.6,270.7 L249.8,272.2 L250.0,273.7 L250.2,275.2 L250.3,276.7 L250.5,278.2 L250.7,279.7 L250.9,281.2 L251.1,282.6 L251.3,284.1 L251.5,285.6 L251.7,287.1 L251.9,288.6 L252.1,290.1 L252.4,291.5 L252.6,293.0 L252.9,294.5 L253.2,296.0 L253.6,297.4 L253.9,298.9 L254.3,300.3 L254.7,301.8 L255.1,303.2 L255.5,304.7 L256.0,306.1 L256.6,307.5 L257.2,308.9 L257.9,310.2 L258.8,311.4 L259.8,312.5 L261.0,313.4 L262.3,314.1 L263.6,314.7 L265.1,315.2 L266.5,315.5 L268.0,315.8 L269.5,316.0 L271.0,316.2 L272.5,316.4 L274.0,316.5 L275.5,316.6 L277.0,316.7 L278.5,316.8 L280.0,316.8 L281.5,316.9 L283.0,316.9 L284.5,316.9 L286.0,316.9 L287.5,316.8 L289.0,316.7 L290.5,316.7 L292.0,316.6 L293.5,316.5 L295.0,316.4 L296.5,316.3 L298.0,316.3 L299.5,316.2 L301.0,316.2 L302.5,316.2 L304.0,316.1 L305.5,316.1 L307.0,316.1 L308.5,316.1 L310.0,316.1 L311.5,316.1 L313.0,316.0 L314.5,316.0 L316.0,316.0 L317.5,316.0 L319.0,316.0 L320.5,316.0 L322.0,316.0 L323.5,316.0 L325.0,316.1 L326.5,316.2 L327.9,316.3 L329.4,316.5 L330.9,316.7 L332.4,316.9 L333.9,317.1 L335.4,317.3 L336.9,317.4 L338.4,317.6 L339.9,317.7 L341.4,317.8 L342.9,317.9 L344.4,317.9 L345.9,317.9 L347.4,317.9 L348.9,317.9 L350.4,317.9 L351.9,317.9 L353.4,317.9 L354.9,317.9 L356.4,317.9 L357.9,317.9 L359.4,317.9 L360.9,317.9 L362.4,317.9 L363.9,317.9 L365.4,317.9 L366.9,317.9 L368.4,317.9 L369.9,317.9 L371.4,317.9 L372.9,317.9 L374.4,317.9 L375.9,318.0 L377.4,318.0 L378.9,318.0 L380.4,318.0 L381.9,318.0 L383.4,318.0 L384.9,318.1 L386.4,318.1 L387.9,318.1 L389.4,318.1 L390.9,318.1 L392.4,318.1 L393.9,318.1 L395.4,318.1 L396.9,318.0 L398.4,317.9 L399.9,317.8 L401.4,317.7 L402.9,317.6 L404.4,317.5 L405.9,317.3 L407.4,317.2 L408.8,317.1 L410.3,317.0 L411.8,316.9 L413.3,316.7 L414.8,316.6 L416.3,316.5 L417.8,316.4 L419.3,316.4 L420.8,316.4 L422.3,316.4 L423.8,316.4 L425.3,316.4 L426.8,316.5 L428.3,316.5 L429.8,316.5 L431.3,316.6 L432.8,316.6 L434.3,316.7 L435.8,316.7 L437.3,316.7 L438.8,316.8 L440.3,316.8 L441.8,316.9 L443.3,316.9 L444.8,317.0 L446.3,317.1 L447.8,317.1 L449.3,317.2 L450.8,317.3 L452.3,317.4 L453.8,317.5 L455.3,317.7 L456.8,317.8 L458.3,317.9 L459.8,318.0 L461.3,318.1 L462.8,318.2 L464.3,318.3 L465.8,318.3 L467.3,318.4 L468.8,318.4 L470.3,318.4 L471.8,318.3 L473.3,318.2 L474.8,318.1 L476.3,318.0 L477.8,317.9 L479.2,317.7 L480.7,317.6 L482.2,317.4 L483.7,317.3 L485.2,317.2 L486.7,317.1 L488.2,317.0 L489.7,316.9 L491.2,316.9 L492.7,316.8 L494.2,316.8 L495.7,316.7 L497.2,316.7 L498.7,316.7 L500.2,316.6 L501.7,316.6 L503.2,316.6 L504.7,316.5 L506.2,316.5 L507.7,316.5 L509.2,316.5 L510.7,316.5 L512.2,316.5 L513.7,316.6 L515.2,316.6 L516.7,316.6 L518.2,316.7 L519.7,316.7 L521.2,316.8 L522.7,316.9 L524.2,317.0 L525.7,317.1 L527.2,317.2 L528.7,317.3 L530.2,317.4 L531.7,317.5 L533.0,317.6 L534.0,317.7" stroke="#c800c0"/>
</g>
<g stroke="#000" stroke-width="2" fill="none" stroke-linecap="butt">
<path d="M59.15,6.2 H533.9 V380.4 H59.15 Z" stroke-linejoin="miter"/>
<line x1="59.15" x2="66.8" y1="349.2" y2="349.2"/>
<line x1="59.15" x2="66.8" y1="286.9" y2="286.9"/>
<line x1="59.15" x2="66.8" y1="224.5" y2="224.5"/>
<line x1="59.15" x2="66.8" y1="162.2" y2="162.2"/>
<line x1="59.15" x2="66.8" y1="99.8" y2="99.8"/>
<line x1="59.15" x2="66.8" y1="37.4" y2="37.4"/>
<line x1="59.15" x2="62.9" y1="318.1" y2="318.1"/>
<line x1="59.15" x2="62.9" y1="255.7" y2="255.7"/>
<line x1="59.15" x2="62.9" y1="193.3" y2="193.3"/>
<line x1="59.15" x2="62.9" y1="131.0" y2="131.0"/>
<line x1="59.15" x2="62.9" y1="68.6" y2="68.6"/>
<line y1="380.4" y2="372.7" x1="164.8" x2="164.8"/>
<line y1="380.4" y2="372.7" x1="287.9" x2="287.9"/>
<line y1="380.4" y2="372.7" x1="410.9" x2="410.9"/>
<line y1="380.4" y2="376.9" x1="103.3" x2="103.3"/>
<line y1="380.4" y2="376.9" x1="226.3" x2="226.3"/>
<line y1="380.4" y2="376.9" x1="349.4" x2="349.4"/>
<line y1="380.4" y2="376.9" x1="472.4" x2="472.4"/>
</g>
<text class="tk" transform="translate(51.4,355.1) scale(1.045,1)" text-anchor="end">0</text>
<text class="tk" transform="translate(51.4,292.7) scale(1.045,1)" text-anchor="end">20</text>
<text class="tk" transform="translate(51.4,230.3) scale(1.045,1)" text-anchor="end">40</text>
<text class="tk" transform="translate(51.4,168.0) scale(1.045,1)" text-anchor="end">60</text>
<text class="tk" transform="translate(51.4,105.6) scale(1.045,1)" text-anchor="end">80</text>
<text class="tk" transform="translate(51.4,43.2) scale(1.045,1)" text-anchor="end">100</text>
<text class="tk" transform="translate(164.8,402.6) scale(1.045,1)" text-anchor="middle">200</text>
<text class="tk" transform="translate(287.9,402.6) scale(1.045,1)" text-anchor="middle">400</text>
<text class="tk" transform="translate(410.9,402.6) scale(1.045,1)" text-anchor="middle">600</text>
<text class="tk" transform="translate(534.0,402.6) scale(1.045,1)" text-anchor="middle">800</text>
<text class="ax" x="297.8" y="431.4" text-anchor="middle">Temperature(°C)</text>
<text class="ay" transform="translate(14.9,193.0) rotate(-90) scale(1.07,1)" text-anchor="middle">Weight(%)</text>
<line x1="441.3" x2="478.6" y1="20.0" y2="20.0" stroke="#333333" stroke-width="1.9"/>
<text class="lg" x="482.7" y="25.4">PA</text>
<line x1="441.3" x2="478.6" y1="39.8" y2="39.8" stroke="#2fb135" stroke-width="1.9"/>
<text class="lg" x="482.7" y="45.2">PCM1</text>
<line x1="441.3" x2="478.6" y1="59.7" y2="59.7" stroke="#7f5ab8" stroke-width="1.9"/>
<text class="lg" x="482.7" y="65.1">PCM2</text>
<line x1="441.3" x2="478.6" y1="79.5" y2="79.5" stroke="#ff7f0e" stroke-width="1.9"/>
<text class="lg" x="482.7" y="84.9">PCM3</text>
<line x1="441.3" x2="478.6" y1="99.3" y2="99.3" stroke="#1f6fff" stroke-width="1.9"/>
<text class="lg" x="482.7" y="104.7">PCM4</text>
<line x1="441.3" x2="478.6" y1="119.1" y2="119.1" stroke="#c800c0" stroke-width="1.9"/>
<text class="lg" x="482.7" y="124.5">PCM5</text>
</svg></body></html>
